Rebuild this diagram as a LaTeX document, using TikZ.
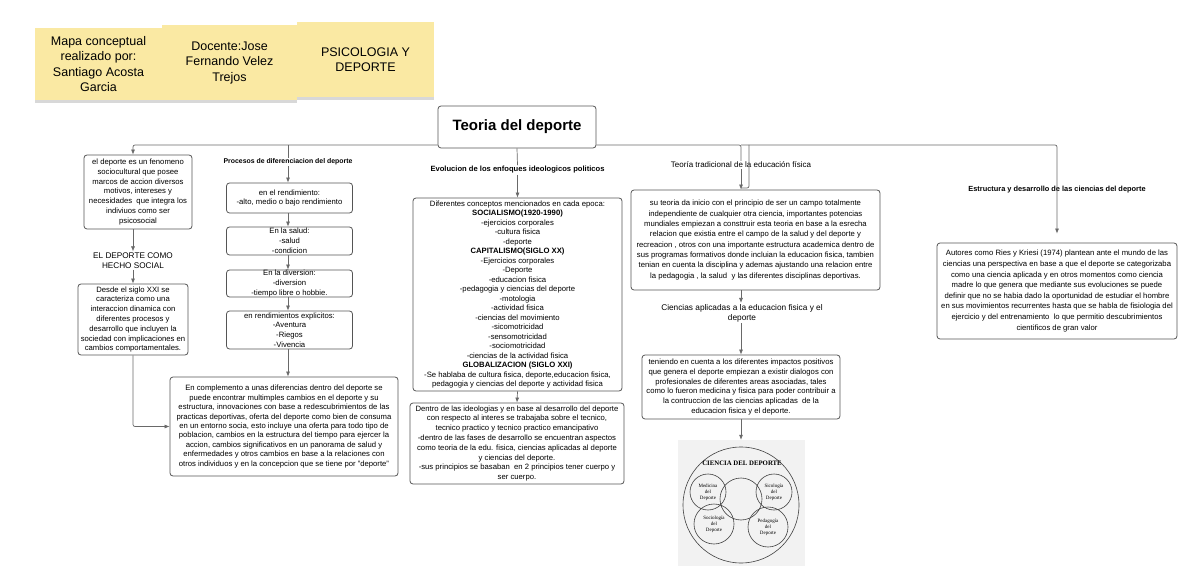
\documentclass[tikz,border=0pt]{standalone}
\usepackage{fontspec}
\setmainfont{Liberation Sans}
\newfontfamily\imgserif{Liberation Serif}
\usetikzlibrary{arrows.meta,shadows}
\definecolor{notey}{RGB}{250,233,163}
\definecolor{edge}{RGB}{85,85,85}
\definecolor{wire}{RGB}{105,105,105}
\definecolor{imgbg}{RGB}{242,242,242}

\tikzset{
  sticky/.style={fill=notey, inner sep=0pt, align=center, font=\fontsize{12.5}{15.5}\selectfont,
    drop shadow={shadow xshift=0pt, shadow yshift=-3pt, opacity=0.3}},
  box/.style={draw=edge, line width=0.8pt, rounded corners=3pt, fill=white, inner sep=0pt,
    align=center, font=\fontsize{7.7}{9.8}\selectfont},
  tag/.style={align=center, inner sep=1pt, font=\fontsize{7}{9}\selectfont\bfseries},
  ln/.style={draw=wire, line width=0.7pt, rounded corners=2pt},
  arr/.style={ln, -{Latex[length=5pt,width=4pt]}},
  ring/.style={draw=black!75, line width=0.6pt},
  ringtxt/.style={align=center, inner sep=0pt, font=\imgserif\fontsize{5}{6}\selectfont}
}

\begin{document}
\begin{tikzpicture}[x=1pt,y=-1pt]
  \fill[white] (0,0) rectangle (1200,588);
  \useasboundingbox (0,0) rectangle (1200,588);

  \node[sticky, minimum width=127pt, minimum height=72pt] (autor) at (98.5,64) {Mapa conceptual\\realizado por:\\Santiago Acosta\\Garcia};
  \node[sticky, minimum width=135pt, minimum height=75pt] (docente) at (229.5,62.5) {Docente:Jose\\Fernando Velez\\Trejos};
  \node[sticky, minimum width=137pt, minimum height=75pt] (materia) at (365.5,59.5) {PSICOLOGIA Y\\DEPORTE};

  \node[box, minimum width=158pt, minimum height=42pt, font=\fontsize{15}{18}\selectfont\bfseries] (teoria) at (517,127) {Teoria del deporte};
  \coordinate (busy) at (0,145);

  \node[box, minimum width=108pt, minimum height=74pt] (fenomeno) at (138,192) {el deporte es un fenomeno\\sociocultural que posee\\marcos de accion diversos\\motivos, intereses y\\necesidades\ \ que integra los\\indiviuos como ser\\psicosocial};
  \node[align=center, inner sep=1pt, font=\fontsize{8.2}{10}\selectfont] (hecho) at (133,260.5) {EL DEPORTE COMO\\HECHO SOCIAL};
  \node[box, minimum width=110pt, minimum height=71pt] (sigloxxi) at (133,319.5) {Desde el siglo XXI se\\caracteriza como una\\interaccion dinamica con\\diferentes procesos y\\desarrollo que incluyen la\\sociedad con implicaciones en\\cambios comportamentales.};

  \node[tag, font=\fontsize{6.9}{8}\selectfont\bfseries] (procesos) at (288,162) {Procesos de diferenciacion del deporte};
  \node[box, minimum width=126pt, minimum height=30pt] (rendimiento) at (289.5,198) {en el rendimiento:\\-alto, medio o bajo rendimiento};
  \node[box, minimum width=126pt, minimum height=28pt] (salud) at (289.5,241) {En la salud:\\-salud\\-condicion};
  \node[box, minimum width=126pt, minimum height=27pt] (diversion) at (289.5,283.5) {En la diversion:\\-diversion\\-tiempo libre o hobbie.};
  \node[box, minimum width=126pt, minimum height=38pt] (explicitos) at (289.5,330) {en rendimientos explicitos:\\-Aventura\\-Riegos\\-Vivencia};
  \node[box, minimum width=228pt, minimum height=99pt, font=\fontsize{7.7}{9.4}\selectfont] (complemento) at (284,426.5) {En complemento a unas diferencias dentro del deporte se\\puede encontrar multimples cambios en el deporte y su\\estructura, innovaciones con base a redescubrimientos de las\\practicas deportivas, oferta del deporte como bien de consuma\\en un entorno socia, esto incluye una oferta para todo tipo de\\poblacion, cambios en la estructura del tiempo para ejercer la\\accion, cambios significativos en un panorama de salud y\\enfermedades y otros cambios en base a la relaciones con\\otros individuos y en la concepcion que se tiene por "deporte"};

  \node[tag, font=\fontsize{7.6}{9}\selectfont\bfseries] (evolucion) at (517.5,170) {Evolucion de los enfoques ideologicos politicos};
  \node[box, minimum width=209pt, minimum height=193pt, font=\fontsize{7.7}{9.5}\selectfont] (epocas) at (517.5,294.5) {Diferentes conceptos mencionados en cada epoca:\\\textbf{SOCIALISMO(1920-1990)}\\-ejercicios corporales\\-cultura fisica\\-deporte\\\textbf{CAPITALISMO(SIGLO XX)}\\-Ejercicios corporales\\-Deporte\\-educacion fisica\\-pedagogia y ciencias del deporte\\-motologia\\-actividad fisica\\-ciencias del movimiento\\-sicomotricidad\\-sensomotricidad\\-sociomotricidad\\-ciencias de la actividad fisica\\\textbf{GLOBALIZACION (SIGLO XXI)}\\-Se hablaba de cultura fisica, deporte,educacion fisica,\\pedagogia y ciencias del deporte y actividad fisica};
  \node[box, minimum width=214pt, minimum height=81pt] (ideologias) at (517,443.5) {Dentro de las ideologias y en base al desarrollo del deporte\\con respecto al interes se trabajaba sobre el tecnico,\\tecnico practico y tecnico practico emancipativo\\-dentro de las fases de desarrollo se encuentran aspectos\\como teoria de la edu. fisica, ciencias aplicadas al deporte\\y ciencias del deporte.\\-sus principios se basaban\ \ en 2 principios tener cuerpo y\\ser cuerpo.};

  \node[align=center, inner sep=1pt, font=\fontsize{8}{9}\selectfont] (tradicional) at (741,165) {Teoría tradicional de la educación física};
  \coordinate (vuelta) at (749,188);
  \node[box, minimum width=249pt, minimum height=100pt, font=\fontsize{7.7}{10.3}\selectfont] (campo) at (755.5,240) {su teoria da inicio con el principio de ser un campo totalmente\\independiente de cualquier otra ciencia, importantes potencias\\mundiales empiezan a consttruir esta teoria en base a la esrecha\\relacion que existia entre el campo de la salud y del deporte y\\recreacion , otros con una importante estructura academica dentro de\\sus programas formativos donde incluian la educacion fisica, tambien\\tenian en cuenta la disciplina y ademas ajustando una relacion entre\\la pedagogia , la salud\ \ y las diferentes disciplinas deportivas.};
  \node[align=center, inner sep=1pt, font=\fontsize{8.3}{10}\selectfont] (aplicadas) at (742,313) {Ciencias aplicadas a la educacion fisica y el\\deporte};
  \node[box, minimum width=198pt, minimum height=64pt] (impactos) at (741,387) {teniendo en cuenta a los diferentes impactos positivos\\que genera el deporte empiezan a existir dialogos con\\profesionales de diferentes areas asociadas, tales\\como lo fueron medicina y fisica para poder contribuir a\\la contruccion de las ciencias aplicadas\ \ de la\\educacion fisica y el deporte.};

  \node[fill=imgbg, inner sep=0pt, minimum width=127pt, minimum height=126pt] (ciencia) at (741.5,503) {};
  \draw[ring] (741,505) circle[radius=58pt];
  \draw[ring] (741,499) circle[radius=21pt];
  \draw[ring] (708,492) circle[radius=18pt];
  \draw[ring] (774,492) circle[radius=18pt];
  \draw[ring] (714,524) circle[radius=20pt];
  \draw[ring] (768,527) circle[radius=20pt];
  \node[inner sep=0pt, font=\imgserif\fontsize{6.8}{8}\selectfont\bfseries] (cdtitulo) at (742,463) {CIENCIA DEL DEPORTE};
  \node[ringtxt] (medicina) at (708,492) {Medicina\\del\\Deporte};
  \node[ringtxt] (sicologia) at (774,492) {Sicología\\del\\Deporte};
  \node[ringtxt] (sociologia) at (714,524) {Sociología\\del\\Deporte};
  \node[ringtxt] (pedagogia) at (768,527) {Pedagogía\\del\\Deporte};

  \node[tag, font=\fontsize{7.4}{9}\selectfont\bfseries] (estructura) at (1057,190) {Estructura y desarrollo de las ciencias del deporte};
  \node[box, minimum width=240pt, minimum height=96pt, font=\fontsize{7.7}{10.6}\selectfont] (autores) at (1057,291) {Autores como Ries y Kriesi (1974) plantean ante el mundo de las\\ciencias una perspectiva en base a que el deporte se categorizaba\\como una ciencia aplicada y en otros momentos como ciencia\\madre lo que genera que mediante sus evoluciones se puede\\definir que no se habia dado la oportunidad de estudiar el hombre\\en sus movimientos recurrentes hasta que se habla de fisiologia del\\ejercicio y del entrenamiento\ \ lo que permitio descubrimientos\\cientificos de gran valor};

  \draw[arr] (teoria.west |- busy) -| (fenomeno.north -| hecho);
  \draw[ln] (procesos.north |- busy) -- (procesos.north);
  \draw[arr] (fenomeno.south -| hecho) -- (hecho.north);
  \draw[arr] (hecho.south) -- (sigloxxi.north);
  \draw[arr] (sigloxxi.south) |- (complemento.west);
  \draw[arr] (procesos.south) -- (procesos.south |- rendimiento.north);
  \draw[arr] (rendimiento.south -| procesos) -- (salud.north -| procesos);
  \draw[arr] (salud.south -| procesos) -- (diversion.north -| procesos);
  \draw[arr] (diversion.south -| procesos) -- (explicitos.north -| procesos);
  \draw[arr] (explicitos.south -| procesos) -- (complemento.north -| procesos);

  \draw[ln] (teoria.south) -- (evolucion.north);
  \draw[arr] (evolucion.south) -- (epocas.north);
  \draw[arr] (epocas.south) -- (ideologias.north);

  \draw[ln] (teoria.east |- busy) -- (tradicional.north |- busy) -- (tradicional.north);
  \draw[ln] (vuelta |- busy) -- (vuelta) -- (vuelta -| tradicional);
  \draw[arr] (tradicional.south) -- (tradicional.south |- campo.north);
  \draw[arr] (campo.south -| tradicional) -- (aplicadas.north -| tradicional);
  \draw[arr] (aplicadas.south -| tradicional) -- (impactos.north -| tradicional);
  \draw[arr] (impactos.south) -- (ciencia.north -| impactos);
  \draw[arr, shorten >=9pt] (tradicional.north |- busy) -| (autores.north);
\end{tikzpicture}
\end{document}
